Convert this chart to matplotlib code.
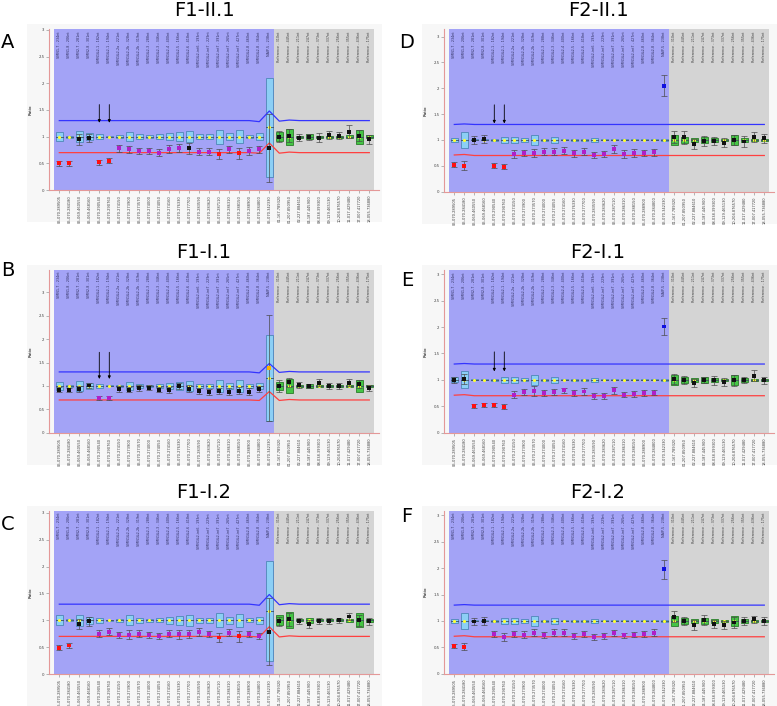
import matplotlib
matplotlib.use("Agg")
import matplotlib.pyplot as plt
from matplotlib.patches import Rectangle

W, H = 777, 706

probe_names = [
    "SMN1-7 - 234nt", "SMN1-8 - 206nt", "SMN2-7 - 281nt", "SMN2-8 - 301nt",
    "SMN1&2-1 - 182nt", "SMN1&2-1 - 194nt", "SMN1&2-2a - 221nt", "SMN1&2-2b - 328nt",
    "SMN1&2-2b - 319nt", "SMN1&2-3 - 288nt", "SMN1&2-3 - 346nt", "SMN1&2-4 - 400nt",
    "SMN1&2-5 - 166nt", "SMN1&2-6 - 418nt", "SMN1&2-int6 - 193nt", "SMN1&2-int7 - 229nt",
    "SMN1&2-int7 - 391nt", "SMN1&2-int7 - 265nt", "SMN1&2-int7 - 427nt", "SMN1&2-8 - 460nt",
    "SMN1&2-8 - 364nt", "NAIP-5 - 238nt",
    "Reference - 310nt", "Reference - 445nt", "Reference - 211nt", "Reference - 247nt",
    "Reference - 373nt", "Reference - 337nt", "Reference - 256nt", "Reference - 355nt",
    "Reference - 436nt", "Reference - 175nt",
]
n_target = 22

positions = [
    "05-070.289505", "05-070.284180", "05-069.460550", "05-069.468160",
    "05-070.290540", "05-070.290760", "05-070.274150", "05-070.273900",
    "05-070.273570", "05-070.274000", "05-070.274050", "05-070.274160",
    "05-070.276330", "05-070.277700", "05-070.283590", "05-070.283620",
    "05-070.287110", "05-070.286310", "05-070.288150", "05-070.288900",
    "05-070.284800", "05-070.342330",
    "01-167.789320", "01-207.850950", "02-227.884610", "04-187.445900",
    "08-038.399300", "09-129.465130", "10-204.876570", "11-017.429480",
    "17-007.417720", "18-055.736880",
]

# reference sample spread (boxes), left column runs
left_box_hi = [1.09, 1.02, 1.10, 1.07, 1.05, 1.01, 1.03, 1.09, 1.05, 1.03, 1.04,
               1.065, 1.08, 1.10, 1.05, 1.05, 1.13, 1.065, 1.12, 1.035, 1.065, 2.10,
               1.09, 1.15, 1.02, 1.05, 1.02, 1.02, 1.02, 1.03, 1.13, 1.03]
left_box_lo = [0.91, 0.98, 0.90, 0.93, 0.95, 0.99, 0.97, 0.91, 0.95, 0.97, 0.96,
               0.935, 0.92, 0.90, 0.95, 0.95, 0.87, 0.935, 0.88, 0.965, 0.935, 0.25,
               0.91, 0.85, 0.98, 0.95, 0.98, 0.98, 0.98, 0.97, 0.87, 0.97]
left_median = [1.0] * 21 + [1.18] + [1.0] * 10

# right column runs
right_box_hi = [1.045, 1.16, 1.01, 1.01, 1.015, 1.06, 1.05, 1.03, 1.095, 1.015, 1.06,
                1.01, 1.015, 1.015, 1.04, 1.01, 1.01, 1.01, 1.01, 1.01, 1.01, 1.015,
                1.09, 1.06, 1.04, 1.06, 1.04, 1.015, 1.09, 1.04, 1.02, 1.02]
right_box_lo = [0.955, 0.85, 0.99, 0.99, 0.985, 0.94, 0.95, 0.97, 0.905, 0.985, 0.94,
                0.99, 0.985, 0.985, 0.96, 0.99, 0.99, 0.99, 0.99, 0.99, 0.99, 0.985,
                0.91, 0.94, 0.96, 0.94, 0.96, 0.985, 0.91, 0.96, 0.98, 0.98]
right_median = [1.0] * 32

# threshold curves
left_upper = [1.3] * 20 + [1.28, 1.48, 1.29, 1.31] + [1.3] * 8
left_lower = [0.7] * 20 + [0.69, 0.88, 0.69, 0.71] + [0.7] * 8
right_upper = [1.3, 1.31] + [1.3] * 30
right_lower = [0.71, 0.72] + [0.7] * 30

# sample ratios
ratio_a = [0.50, 0.50, 0.95, 0.97, 0.52, 0.55, 0.78, 0.76, 0.73, 0.73, 0.70, 0.77,
           0.79, 0.78, 0.72, 0.72, 0.68, 0.76, 0.69, 0.73, 0.76, 0.79,
           1.00, 1.02, 0.98, 0.99, 0.98, 1.03, 1.02, 1.09, 1.02, 0.95]
ratio_b = [0.92, 0.91, 0.93, 1.01, 0.74, 0.74, 0.94, 0.92, 0.95, 0.96, 0.92, 0.91,
           1.00, 0.94, 0.89, 0.87, 0.89, 0.88, 0.90, 0.88, 0.94, 1.38,
           1.00, 1.08, 1.02, 1.00, 1.07, 1.00, 1.00, 1.07, 1.04, 0.96]
ratio_c = [0.49, 0.53, 0.93, 0.98, 0.75, 0.79, 0.73, 0.73, 0.75, 0.73, 0.71, 0.75,
           0.74, 0.74, 0.78, 0.74, 0.68, 0.77, 0.70, 0.74, 0.71, 0.79,
           0.98, 1.02, 0.99, 0.93, 0.99, 0.99, 1.00, 1.07, 1.00, 0.98]
ratio_d = [0.52, 0.50, 1.00, 1.02, 0.50, 0.48, 0.73, 0.75, 0.75, 0.77, 0.77, 0.79,
           0.74, 0.77, 0.71, 0.73, 0.82, 0.73, 0.75, 0.75, 0.76, 2.05,
           1.06, 1.05, 0.92, 0.98, 0.98, 0.95, 1.00, 0.97, 1.06, 1.03]
ratio_e = [1.00, 1.02, 0.51, 0.53, 0.53, 0.49, 0.72, 0.77, 0.79, 0.75, 0.77, 0.80,
           0.75, 0.78, 0.70, 0.70, 0.80, 0.72, 0.73, 0.75, 0.76, 2.01,
           1.02, 1.00, 0.94, 1.00, 0.99, 0.96, 0.99, 1.00, 1.08, 0.99]
ratio_f = [0.53, 0.51, 0.99, 1.00, 0.75, 0.70, 0.75, 0.74, 0.78, 0.73, 0.78, 0.78,
           0.72, 0.75, 0.70, 0.72, 0.77, 0.73, 0.74, 0.75, 0.78, 1.98,
           1.08, 1.00, 0.92, 1.02, 0.94, 0.92, 0.97, 1.00, 1.03, 1.00]

# 95% ranges of the sample ratios
err_a = [0.05, 0.05, 0.10, 0.08, 0.05, 0.05, 0.07, 0.07, 0.06, 0.06, 0.06, 0.07,
         0.07, 0.10, 0.07, 0.07, 0.09, 0.07, 0.10, 0.07, 0.07, 0.64,
         0.10, 0.12, 0.06, 0.06, 0.08, 0.08, 0.07, 0.12, 0.10, 0.08]
err_b = [0.06, 0.05, 0.07, 0.06, 0.05, 0.05, 0.06, 0.06, 0.06, 0.05, 0.06, 0.06,
         0.07, 0.08, 0.07, 0.07, 0.07, 0.07, 0.07, 0.07, 0.06, 1.14,
         0.12, 0.10, 0.06, 0.05, 0.07, 0.06, 0.06, 0.07, 0.08, 0.07]
err_c = [0.05, 0.04, 0.09, 0.08, 0.06, 0.06, 0.06, 0.08, 0.06, 0.06, 0.06, 0.07,
         0.08, 0.07, 0.07, 0.06, 0.09, 0.07, 0.10, 0.06, 0.06, 0.63,
         0.08, 0.12, 0.06, 0.07, 0.06, 0.06, 0.05, 0.07, 0.10, 0.07]
err_d = [0.05, 0.09, 0.08, 0.08, 0.05, 0.05, 0.07, 0.06, 0.08, 0.07, 0.07, 0.07,
         0.07, 0.07, 0.06, 0.06, 0.08, 0.07, 0.07, 0.06, 0.07, 0.20,
         0.12, 0.12, 0.10, 0.10, 0.08, 0.08, 0.10, 0.10, 0.10, 0.09]
err_e = [0.05, 0.10, 0.04, 0.04, 0.04, 0.05, 0.07, 0.06, 0.09, 0.05, 0.06, 0.05,
         0.06, 0.06, 0.06, 0.06, 0.06, 0.05, 0.05, 0.06, 0.05, 0.16,
         0.09, 0.07, 0.08, 0.06, 0.08, 0.07, 0.10, 0.06, 0.10, 0.07]
err_f = [0.04, 0.07, 0.07, 0.07, 0.05, 0.08, 0.06, 0.06, 0.07, 0.06, 0.07, 0.06,
         0.06, 0.06, 0.06, 0.06, 0.05, 0.05, 0.05, 0.05, 0.07, 0.18,
         0.10, 0.08, 0.10, 0.09, 0.08, 0.07, 0.10, 0.07, 0.07, 0.08]

# point colour codes: r deletion, m ambiguous, k normal, b gain, o uncertain
col_a = "rrkkrrmmmmmmmkmmrmrmmk" + "kkkkkkkkkk"
col_b = "kkkkmmkkkkkkkkkkkkkkko" + "kkkkkkkkkk"
col_c = "rrkkmmmmmmmmmmmmrmrmmk" + "kkkkkkkkkk"
col_d = "rrkkrrmmmmmmmmmmmmmmmb" + "kkkkkkkkkk"
col_e = "kkrrrrmmmmmmmmmmmmmmmb" + "kkkkkkkkkk"
col_f = "rrkkmmmmmmmmmmmmmmmmmb" + "kkkkkkkkkk"

point_colors = {"r": "#ff1010", "m": "#b01fc8", "k": "#111111",
                "b": "#1010e0", "o": "#ffb000"}

BLUE_BG = "#a3a3f6"
GRAY_BG = "#d4d4d4"


def draw_panel(ax, ratio, err, cols, box_lo, box_hi, median, upper, lower, ytop, arrow):
    n = len(ratio)
    xs = list(range(1, n + 1))
    ax.set_xlim(0, n + 1)
    ax.set_ylim(0, ytop)
    ax.add_patch(Rectangle((0.5, 0), n_target, ytop, color=BLUE_BG, lw=0, zorder=0))
    ax.add_patch(Rectangle((n_target + 0.5, 0), n - n_target, ytop, color=GRAY_BG, lw=0, zorder=0))

    for i, x in enumerate(xs):
        if i < n_target:
            fc, ec = "#8ccff5", "#4f86b8"
        else:
            fc, ec = "#45c445", "#2b7d2b"
        ax.add_patch(Rectangle((x - 0.36, box_lo[i]), 0.72, box_hi[i] - box_lo[i],
                               fc=fc, ec=ec, lw=0.6, zorder=2))
        ax.plot([x - 0.36, x + 0.36], [median[i], median[i]], color="#3d4d60", lw=0.6, zorder=3)
    ax.plot(xs, median, ls="none", marker="o", ms=1.2, color="#ffff30", zorder=3)

    ax.plot(xs, upper, color="#3434ff", lw=0.9, zorder=3)
    ax.plot(xs, lower, color="#ff4040", lw=0.9, zorder=3)

    ax.errorbar(xs, ratio, yerr=err, fmt="none", ecolor="#4a4a4a", elinewidth=0.5,
                capsize=2.4, capthick=0.5, zorder=4)
    ax.scatter(xs, ratio, c=[point_colors[c] for c in cols], marker="s", s=8,
               linewidths=0, zorder=5)

    for x, name in zip(xs, probe_names):
        ax.text(x, ytop - 0.04, name, rotation=90, ha="center", va="top",
                fontsize=2.4, color="#303060" if x <= n_target else "#404040", zorder=6)

    if arrow is not None:
        y0, y1 = arrow
        for x in (5, 6):
            ax.annotate("", xy=(x, y1), xytext=(x, y0),
                        arrowprops=dict(arrowstyle="-|>", color="black", lw=0.6,
                                        mutation_scale=4, shrinkA=0, shrinkB=0),
                        zorder=7)

    ax.set_xticks(xs)
    ax.set_xticklabels(positions, rotation=90, fontsize=2.6, color="#404040")
    ax.set_yticks([0, 0.5, 1, 1.5, 2, 2.5, 3])
    ax.set_yticklabels(["0", "0.5", "1", "1.5", "2", "2.5", "3"], fontsize=2.8, color="#404040")
    ax.tick_params(length=2.5, width=0.4, color="#808080", pad=1)
    ax.set_ylabel("Ratio", fontsize=3, labelpad=4)
    for s in ("top", "right"):
        ax.spines[s].set_visible(False)
    for s in ("left", "bottom"):
        ax.spines[s].set_color("#e49898")
        ax.spines[s].set_linewidth(0.8)
    ax.set_facecolor("none")


panels = [
    # letter, title, ratio, err, colours, column, ytop, arrow, left px, top px, bottom px, title y, letter y
    ("A", "F1-II.1", ratio_a, err_a, col_a, "left", 3.01, (1.6, 1.26), 49.3, 29.3, 190.0, 10, 42),
    ("B", "F1-I.1", ratio_b, err_b, col_b, "left", 3.48, (1.72, 1.15), 49.3, 270.0, 432.7, 253, 270),
    ("C", "F1-I.2", ratio_c, err_c, col_c, "left", 3.04, None, 49.3, 510.7, 674.0, 492, 525),
    ("D", "F2-II.1", ratio_d, err_d, col_d, "right", 3.14, (1.68, 1.32), 444.3, 29.3, 191.7, 10, 42),
    ("E", "F2-I.1", ratio_e, err_e, col_e, "right", 3.08, (1.53, 1.16), 444.3, 270.0, 432.7, 253, 280),
    ("F", "F2-I.2", ratio_f, err_f, col_f, "right", 3.09, None, 444.3, 510.7, 673.7, 492, 517),
]

fig = plt.figure(figsize=(W / 100, H / 100), dpi=100)
fig.patch.set_facecolor("white")

for letter, title, ratio, err, cols, side, ytop, arrow, lpx, tpx, bpx, ty, ly in panels:
    if side == "left":
        box_lo, box_hi, median, upper, lower = left_box_lo, left_box_hi, left_median, left_upper, left_lower
        frame_x, title_x, letter_x = 27, 204, 8
    else:
        box_lo, box_hi, median, upper, lower = right_box_lo, right_box_hi, right_median, right_upper, right_lower
        frame_x, title_x, letter_x = 422, 598, 407
    fig.patches.append(Rectangle((frame_x / W, 1 - (bpx + 32) / H), 355 / W, (bpx + 32 - tpx + 5) / H,
                                 transform=fig.transFigure, fc="#f7f7f7", ec="none", zorder=-5))
    ax = fig.add_axes([lpx / W, 1 - bpx / H, 330 / W, (bpx - tpx) / H])
    draw_panel(ax, ratio, err, cols, box_lo, box_hi, median, upper, lower, ytop, arrow)
    fig.text(title_x / W, 1 - ty / H, title, ha="center", va="center", fontsize=14)
    fig.text(letter_x / W, 1 - ly / H, letter, ha="center", va="center", fontsize=14)

fig.savefig("out.png", dpi=100)
